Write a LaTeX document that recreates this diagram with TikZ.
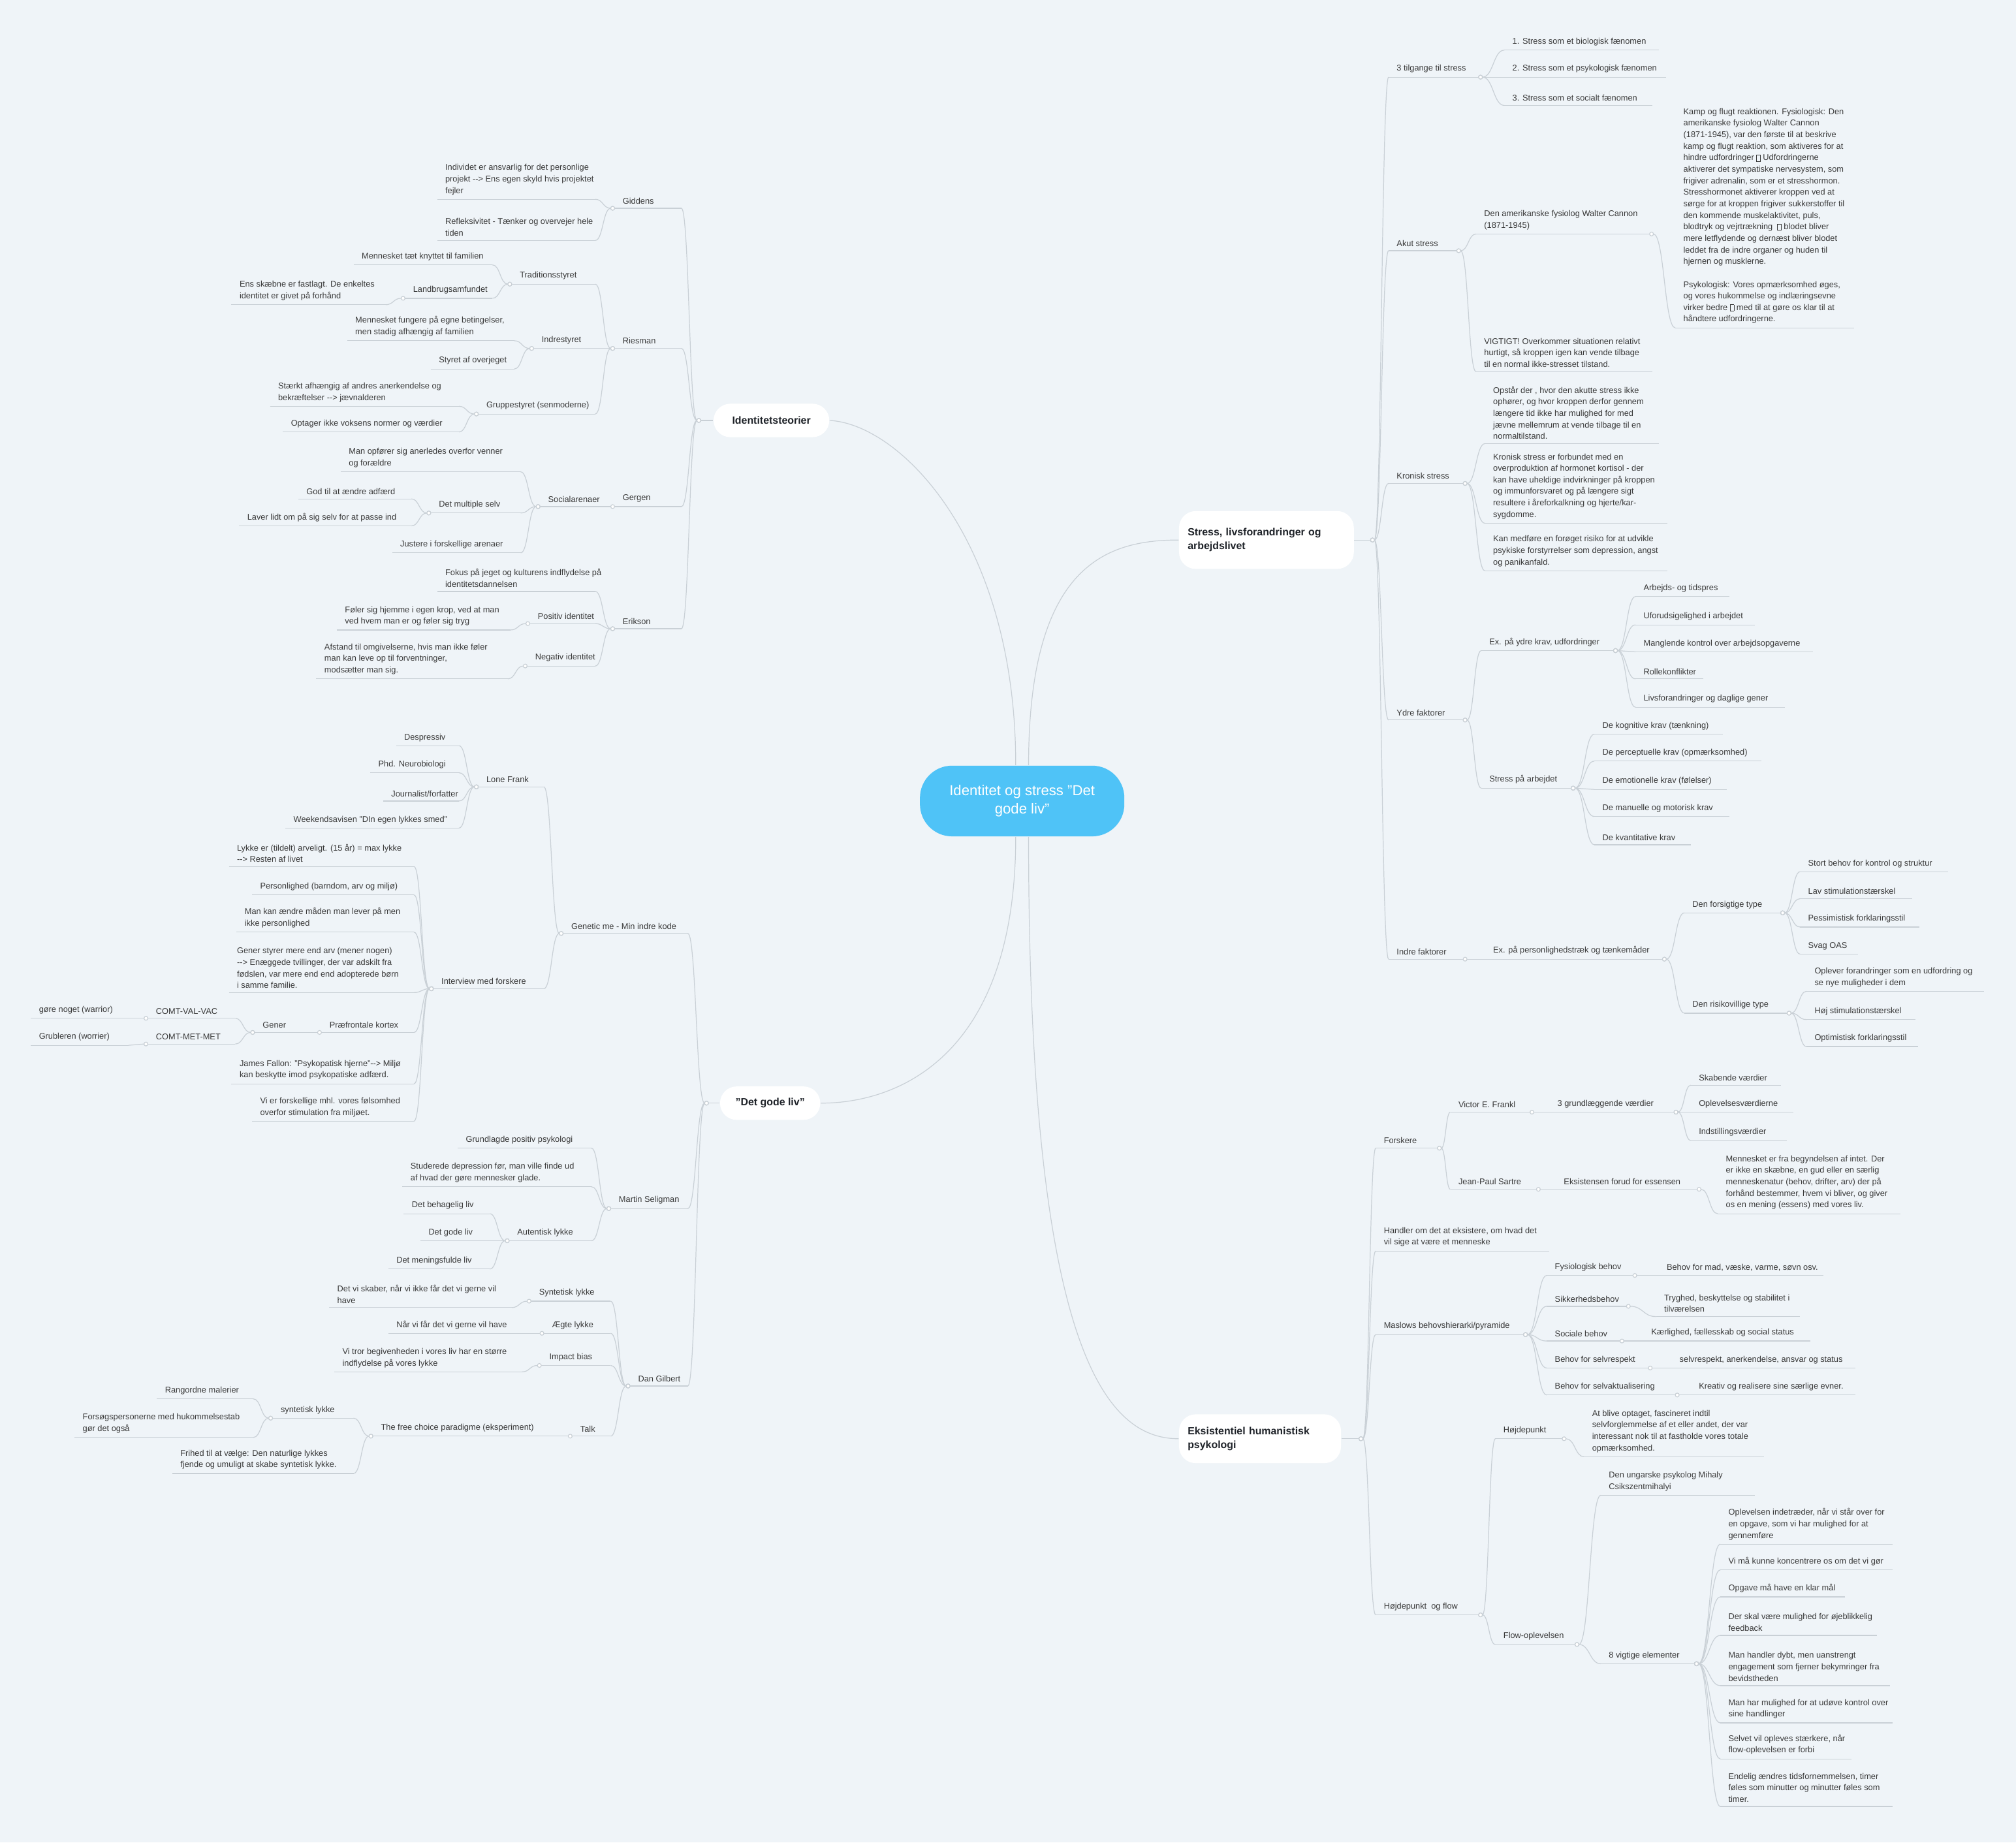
\documentclass[tikz,border=0pt]{standalone}
\usepackage{fontspec}
\setmainfont{Liberation Sans}
\usetikzlibrary{calc}
\definecolor{bg}{HTML}{EFF4F8}
\definecolor{ln}{HTML}{C9D0D6}
\definecolor{tx}{HTML}{3A3A3A}
\definecolor{mt}{HTML}{1F2329}
\definecolor{cb}{HTML}{4FC3F7}
\newcommand\arr{-{}-{}>}
\newcommand\tofu{\raisebox{-0.1ex}{\setlength\fboxsep{0pt}\setlength\fboxrule{0.2pt}\fbox{\rule{0pt}{0.7em}\hspace{0.4em}}}}
\tikzset{
 cn/.style={draw=ln,line width=0.35pt},
 ul/.style={draw=ln,line width=0.35pt},
 dotc/.style={draw=ln,fill=white,line width=0.35pt},
 lbl/.style={anchor=south west,inner xsep=0.12cm,inner ysep=0.06cm,font=\fontsize{3.7}{5.1}\selectfont,align=left,text=tx},
 mainbox/.style={fill=white,rounded corners=0.26cm,font=\bfseries\fontsize{4.6}{6}\selectfont,text=mt,inner sep=2pt,align=left}
}
\newcommand\Rk[6]{%
 \coordinate (#1s) at (#3,#5); \coordinate (#1e) at (#4,#5);
 \coordinate (#1p) at ($(#2e)+(3,0)$);
 \coordinate (#1m) at ($(#1p)!0.5!(#1s)$);
 \draw[cn] (#1p) .. controls (#1m |- #1p) and (#1m |- #1s) .. (#1s);
 \draw[ul] (#1s) -- (#1e);
 \node[lbl] (#1) at (#1s) {#6};
 \draw[dotc] ($(#2e)+(1.5,0)$) circle[radius=0.03cm];}
\newcommand\Lk[6]{%
 \coordinate (#1s) at (#3,#5); \coordinate (#1e) at (#4,#5);
 \coordinate (#1p) at ($(#2s)+(-3,0)$);
 \coordinate (#1m) at ($(#1p)!0.5!(#1e)$);
 \draw[cn] (#1p) .. controls (#1m |- #1p) and (#1m |- #1e) .. (#1e);
 \draw[ul] (#1s) -- (#1e);
 \node[lbl] (#1) at (#1s) {#6};
 \draw[dotc] ($(#2s)+(-1.5,0)$) circle[radius=0.03cm];}
\begin{document}
\begin{tikzpicture}[x=0.02cm,y=-0.02cm]
\fill[bg] (0,0) rectangle (1568,1433);
\useasboundingbox (0,0) rectangle (1568,1433);
% main nodes
\node[fill=cb,rounded corners=0.5cm,minimum width=3.18cm,minimum height=1.1cm,text=white,align=center,font=\fontsize{6.4}{8}\selectfont] (C) at (795,623) {Identitet og stress "Det\\gode liv"};
\node[mainbox,minimum width=1.8cm,minimum height=0.52cm,align=center] (I) at (600,327) {Identitetsteorier};
\node[mainbox,minimum width=1.56cm,minimum height=0.52cm,align=center] (G) at (599,858) {"Det gode liv"};
\node[mainbox,minimum width=2.72cm,minimum height=0.9cm,text width=2.45cm] (S) at (985,420) {Stress, livsforandringer og\\arbejdslivet};
\node[mainbox,minimum width=2.52cm,minimum height=0.76cm,text width=2.25cm] (E) at (980,1119) {Eksistentiel humanistisk\\psykologi};
\coordinate (Is) at (545,327); \coordinate (Gs) at (551,858);
\coordinate (Se) at (1066,420); \coordinate (Ee) at (1057,1119);
\draw[ul] ($(C.north)+(-5,0)$) .. controls (790,420) and (700,330) .. (I.east);
\draw[ul] ($(C.north)+(5,0)$) .. controls (800,440) and (860,420) .. (S.west);
\draw[ul] ($(C.south)+(-5,0)$) .. controls (790,820) and (700,858) .. (G.east);
\draw[ul] ($(C.south)+(5,0)$) .. controls (800,1050) and (860,1119) .. (E.west);
\draw[ul] (I.west) -- (Is); \draw[ul] (G.west) -- (Gs);
\draw[ul] (S.east) -- (Se); \draw[ul] (E.east) -- (Ee);
% Identitetsteorier
\Lk{gid}{I}{478}{530}{162}{Giddens}
\Lk{gidA}{gid}{340}{463}{155}{Individet er ansvarlig for det personlige\\projekt \arr{} Ens egen skyld hvis projektet\\fejler}
\Lk{gidB}{gid}{340}{463}{187}{Refleksivitet - Tænker og overvejer hele\\tiden}
\Lk{rie}{I}{478}{530}{271}{Riesman}
\Lk{tra}{rie}{398}{463}{221}{Traditionsstyret}
\Lk{traA}{tra}{275}{383}{206}{Mennesket tæt knyttet til familien}
\Lk{traB}{tra}{315}{383}{232}{Landbrugsamfundet}
\Lk{traC}{traB}{180}{300}{237}{Ens skæbne er fastlagt. De enkeltes\\identitet er givet på forhånd}
\Lk{ind}{rie}{415}{463}{271}{Indrestyret}
\Lk{indA}{ind}{270}{400}{265}{Mennesket fungere på egne betingelser,\\men stadig afhængig af familien}
\Lk{indB}{ind}{335}{400}{287}{Styret af overjeget}
\Lk{gru}{rie}{372}{463}{322}{Gruppestyret (senmoderne)}
\Lk{gruA}{gru}{210}{357}{316}{Stærkt afhængig af andres anerkendelse og\\bekræftelser \arr{} jævnalderen}
\Lk{gruB}{gru}{220}{357}{336}{Optager ikke voksens normer og værdier}
\Lk{ger}{I}{478}{530}{394}{Gergen}
\Lk{soc}{ger}{420}{463}{394}{Socialarenaer}
\Lk{socA}{soc}{265}{405}{367}{Man opfører sig anerledes overfor venner\\og forældre}
\Lk{mul}{soc}{335}{405}{399}{Det multiple selv}
\Lk{mulA}{mul}{232}{320}{388}{God til at ændre adfærd}
\Lk{mulB}{mul}{186}{320}{409}{Laver lidt om på sig selv for at passe ind}
\Lk{socC}{soc}{305}{405}{430}{Justere i forskellige arenaer}
\Lk{eri}{I}{478}{530}{489}{Erikson}
\Lk{eriA}{eri}{340}{463}{460}{Fokus på jeget og kulturens indflydelse på\\identitetsdannelsen}
\Lk{pos}{eri}{412}{463}{485}{Positiv identitet}
\Lk{posA}{pos}{262}{397}{490}{Føler sig hjemme i egen krop, ved at man\\ved hvem man er og føler sig tryg}
\Lk{neg}{eri}{410}{463}{518}{Negativ identitet}
\Lk{negA}{neg}{246}{395}{528}{Afstand til omgivelserne, hvis man ikke føler\\man kan leve op til forventninger,\\modsætter man sig.}
% Det gode liv
\Lk{gen}{G}{438}{535}{726}{Genetic me - Min indre kode}
\Lk{lon}{gen}{372}{423}{612}{Lone Frank}
\Lk{lonA}{lon}{308}{357}{580}{Despressiv}
\Lk{lonB}{lon}{288}{357}{601}{Phd. Neurobiologi}
\Lk{lonC}{lon}{298}{357}{623}{Journalist/forfatter}
\Lk{lonD}{lon}{222}{357}{644}{Weekendsavisen "DIn egen lykkes smed"}
\Lk{int}{gen}{337}{423}{769}{Interview med forskere}
\Lk{intA}{int}{178}{322}{674}{Lykke er (tildelt) arveligt. (15 år) = max lykke\\\arr{} Resten af livet}
\Lk{intB}{int}{196}{322}{696}{Personlighed (barndom, arv og miljø)}
\Lk{intC}{int}{184}{322}{725}{Man kan ændre måden man lever på men\\ikke personlighed}
\Lk{intD}{int}{178}{322}{772}{Gener styrer mere end arv (mener nogen)\\\arr{} Enæggede tvillinger, der var adskilt fra\\fødslen, var mere end end adopterede børn\\i samme familie.}
\Lk{pre}{int}{250}{322}{803}{Præfrontale kortex}
\Lk{gnr}{pre}{198}{235}{803}{Gener}
\Lk{cv}{gnr}{115}{183}{792}{COMT-VAL-VAC}
\Lk{cm}{gnr}{115}{183}{812}{COMT-MET-MET}
\Lk{cvA}{cv}{24}{100}{792}{gøre noget (warrior)}
\Lk{cmA}{cm}{24}{100}{813}{Grubleren (worrier)}
\Lk{intF}{int}{180}{322}{843}{James Fallon: "Psykopatisk hjerne"\arr{} Miljø\\kan beskytte imod psykopatiske adfærd.}
\Lk{intG}{int}{196}{322}{872}{Vi er forskellige mhl. vores følsomhed\\overfor stimulation fra miljøet.}
\Lk{sel}{G}{475}{535}{940}{Martin Seligman}
\Lk{selA}{sel}{356}{460}{893}{Grundlagde positiv psykologi}
\Lk{selB}{sel}{313}{460}{923}{Studerede depression før, man ville finde ud\\af hvad der gøre mennesker glade.}
\Lk{aut}{sel}{396}{460}{965}{Autentisk lykke}
\Lk{autA}{aut}{314}{381}{944}{Det behagelig liv}
\Lk{autB}{aut}{327}{381}{965}{Det gode liv}
\Lk{autC}{aut}{302}{381}{987}{Det meningsfulde liv}
\Lk{dan}{G}{490}{535}{1078}{Dan Gilbert}
\Lk{syn}{dan}{413}{475}{1012}{Syntetisk lykke}
\Lk{synA}{syn}{256}{398}{1017}{Det vi skaber, når vi ikke får det vi gerne vil\\have}
\Lk{aeg}{dan}{423}{475}{1037}{Ægte lykke}
\Lk{aegA}{aeg}{302}{408}{1037}{Når vi får det vi gerne vil have}
\Lk{imp}{dan}{421}{475}{1062}{Impact bias}
\Lk{impA}{imp}{260}{406}{1067}{Vi tror begivenheden i vores liv har en større\\indflydelse på vores lykke}
\Lk{tal}{dan}{445}{475}{1117}{Talk}
\Lk{fcp}{tal}{290}{430}{1117}{The free choice paradigme (eksperiment)}
\Lk{sl}{fcp}{212}{275}{1103}{syntetisk lykke}
\Lk{slA}{sl}{122}{197}{1088}{Rangordne malerier}
\Lk{slB}{sl}{58}{197}{1118}{Forsøgspersonerne med hukommelsestab\\gør det også}
\Lk{fr}{fcp}{134}{275}{1146}{Frihed til at vælge: Den naturlige lykkes\\fjende og umuligt at skabe syntetisk lykke.}
% Stress
\Rk{tt}{S}{1080}{1150}{60}{3 tilgange til stress}
\Rk{ttA}{tt}{1170}{1290}{39}{1. Stress som et biologisk fænomen}
\Rk{ttB}{tt}{1170}{1296}{60}{2. Stress som et psykologisk fænomen}
\Rk{ttC}{tt}{1170}{1285}{82}{3. Stress som et socialt fænomen}
\Rk{aku}{S}{1080}{1133}{195}{Akut stress}
\Rk{can}{aku}{1148}{1283}{182}{Den amerikanske fysiolog Walter Cannon\\(1871-1945)}
\Rk{big}{can}{1303}{1442}{255}{Kamp og flugt reaktionen. Fysiologisk: Den\\amerikanske fysiolog Walter Cannon\\(1871-1945), var den første til at beskrive\\kamp og flugt reaktion, som aktiveres for at\\hindre udfordringer \tofu{} Udfordringerne\\aktiverer det sympatiske nervesystem, som\\frigiver adrenalin, som er et stresshormon.\\Stresshormonet aktiverer kroppen ved at\\sørge for at kroppen frigiver sukkerstoffer til\\den kommende muskelaktivitet, puls,\\blodtryk og vejrtrækning \ \tofu{} blodet bliver\\mere letflydende og dernæst bliver blodet\\leddet fra de indre organer og huden til\\hjernen og musklerne.\\[5.1pt]Psykologisk: Vores opmærksomhed øges,\\og vores hukommelse og indlæringsevne\\virker bedre \tofu{} med til at gøre os klar til at\\håndtere udfordringerne.}
\Rk{vig}{aku}{1148}{1285}{289}{VIGTIGT! Overkommer situationen relativt\\hurtigt, så kroppen igen kan vende tilbage\\til en normal ikke-stresset tilstand.}
\Rk{kro}{S}{1080}{1138}{376}{Kronisk stress}
\Rk{kroA}{kro}{1155}{1290}{345}{Opstår der , hvor den akutte stress ikke\\ophører, og hvor kroppen derfor gennem\\længere tid ikke har mulighed for med\\jævne mellemrum at vende tilbage til en\\normaltilstand.}
\Rk{kroB}{kro}{1155}{1297}{407}{Kronisk stress er forbundet med en\\overproduktion af hormonet kortisol - der\\kan have uheldige indvirkninger på kroppen\\og immunforsvaret og på længere sigt\\resultere i åreforkalkning og hjerte/kar-\\sygdomme.}
\Rk{kroC}{kro}{1155}{1297}{444}{Kan medføre en forøget risiko for at udvikle\\psykiske forstyrrelser som depression, angst\\og panikanfald.}
\Rk{ydr}{S}{1080}{1138}{560}{Ydre faktorer}
\Rk{ex}{ydr}{1152}{1255}{506}{Ex. på ydre krav, udfordringer}
\Rk{exA}{ex}{1272}{1345}{464}{Arbejds- og tidspres}
\Rk{exB}{ex}{1272}{1365}{486}{Uforudsigelighed i arbejdet}
\Rk{exC}{ex}{1272}{1410}{507}{Manglende kontrol over arbejdsopgaverne}
\Rk{exD}{ex}{1272}{1325}{528}{Rollekonflikter}
\Rk{exE}{ex}{1272}{1388}{550}{Livsforandringer og daglige gener}
\Rk{sta}{ydr}{1152}{1222}{613}{Stress på arbejdet}
\Rk{staA}{sta}{1240}{1340}{571}{De kognitive krav (tænkning)}
\Rk{staB}{sta}{1240}{1370}{592}{De perceptuelle krav (opmærksomhed)}
\Rk{staC}{sta}{1240}{1343}{614}{De emotionelle krav (følelser)}
\Rk{staD}{sta}{1240}{1345}{635}{De manuelle og motorisk krav}
\Rk{staE}{sta}{1240}{1315}{657}{De kvantitative krav}
\Rk{inr}{S}{1080}{1138}{746}{Indre faktorer}
\Rk{ep}{inr}{1155}{1293}{746}{Ex. på personlighedstræk og tænkemåder}
\Rk{fo}{ep}{1310}{1385}{710}{Den forsigtige type}
\Rk{foA}{fo}{1400}{1515}{678}{Stort behov for kontrol og struktur}
\Rk{foB}{fo}{1400}{1487}{699}{Lav stimulationstærskel}
\Rk{foC}{fo}{1400}{1493}{721}{Pessimistisk forklaringsstil}
\Rk{foD}{fo}{1400}{1445}{742}{Svag OAS}
\Rk{ri}{ep}{1310}{1390}{788}{Den risikovillige type}
\Rk{riA}{ri}{1405}{1543}{771}{Oplever forandringer som en udfordring og\\se nye muligheder i dem}
\Rk{riB}{ri}{1405}{1490}{793}{Høj stimulationstærskel}
\Rk{riC}{ri}{1405}{1492}{814}{Optimistisk forklaringsstil}
% Eksistentiel
\Rk{fors}{E}{1070}{1118}{893}{Forskere}
\Rk{vic}{fors}{1128}{1190}{865}{Victor E. Frankl}
\Rk{gr}{vic}{1205}{1302}{865}{3 grundlæggende værdier}
\Rk{grA}{gr}{1315}{1385}{844}{Skabende værdier}
\Rk{grB}{gr}{1315}{1395}{865}{Oplevelsesværdierne}
\Rk{grC}{gr}{1315}{1390}{887}{Indstillingsværdier}
\Rk{jps}{fors}{1128}{1195}{925}{Jean-Paul Sartre}
\Rk{eks}{jps}{1210}{1320}{925}{Eksistensen forud for essensen}
\Rk{eksA}{eks}{1336}{1478}{944}{Mennesket er fra begyndelsen af intet. Der\\er ikke en skæbne, en gud eller en særlig\\menneskenatur (behov, drifter, arv) der på\\forhånd bestemmer, hvem vi bliver, og giver\\os en mening (essens) med vores liv.}
\Rk{han}{E}{1070}{1205}{973}{Handler om det at eksistere, om hvad det\\vil sige at være et menneske}
\Rk{mas}{E}{1070}{1185}{1038}{Maslows behovshierarki/pyramide}
\Rk{mA}{mas}{1203}{1270}{992}{Fysiologisk behov}
\Rk{mAa}{mA}{1290}{1418}{992}{Behov for mad, væske, varme, søvn osv.}
\Rk{mB}{mas}{1203}{1265}{1016}{Sikkerhedsbehov}
\Rk{mBa}{mB}{1288}{1400}{1024}{Tryghed, beskyttelse og stabilitet i\\tilværelsen}
\Rk{mC}{mas}{1203}{1260}{1043}{Sociale behov}
\Rk{mCa}{mC}{1278}{1408}{1043}{Kærlighed, fællesskab og social status}
\Rk{mD}{mas}{1203}{1282}{1064}{Behov for selvrespekt}
\Rk{mDa}{mD}{1300}{1443}{1064}{selvrespekt, anerkendelse, ansvar og status}
\Rk{mE}{mas}{1203}{1303}{1085}{Behov for selvaktualisering}
\Rk{mEa}{mE}{1315}{1443}{1085}{Kreativ og realisere sine særlige evner.}
\Rk{hf}{E}{1070}{1150}{1256}{Højdepunkt \ og flow}
\Rk{hp}{hf}{1163}{1215}{1119}{Højdepunkt}
\Rk{hpA}{hp}{1232}{1372}{1133}{At blive optaget, fascineret indtil\\selvforglemmelse af et eller andet, der var\\interessant nok til at fastholde vores totale\\opmærksomhed.}
\Rk{flo}{hf}{1163}{1225}{1279}{Flow-oplevelsen}
\Rk{un}{flo}{1245}{1365}{1163}{Den ungarske psykolog Mihaly\\Csikszentmihalyi}
\Rk{ve}{flo}{1245}{1318}{1294}{8 vigtige elementer}
\Rk{veA}{ve}{1338}{1472}{1201}{Oplevelsen indetræder, når vi står over for\\en opgave, som vi har mulighed for at\\gennemføre}
\Rk{veB}{ve}{1338}{1472}{1221}{Vi må kunne koncentrere os om det vi gør}
\Rk{veC}{ve}{1338}{1435}{1242}{Opgave må have en klar mål}
\Rk{veD}{ve}{1338}{1460}{1272}{Der skal være mulighed for øjeblikkelig\\feedback}
\Rk{veE}{ve}{1338}{1470}{1311}{Man handler dybt, men uanstrengt\\engagement som fjerner bekymringer fra\\bevidstheden}
\Rk{veF}{ve}{1338}{1472}{1340}{Man har mulighed for at udøve kontrol over\\sine handlinger}
\Rk{veG}{ve}{1338}{1440}{1368}{Selvet vil opleves stærkere, når\\flow-oplevelsen er forbi}
\Rk{veH}{ve}{1338}{1472}{1405}{Endelig ændres tidsfornemmelsen, timer\\føles som minutter og minutter føles som\\timer.}
\end{tikzpicture}
\end{document}
